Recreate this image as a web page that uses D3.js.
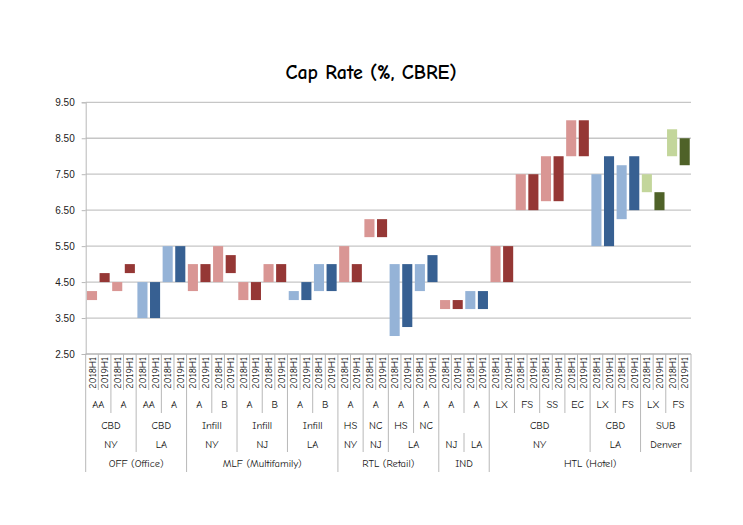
<!DOCTYPE html>
<html>
<head>
<meta charset="utf-8">
<script src="https://cdn.jsdelivr.net/npm/d3@7"></script>
<style>
  html, body { margin: 0; padding: 0; background: #fff; }
  svg { display: block; }
  .comic { font-family: "Comic Sans MS", "Comic Neue", "DejaVu Sans", sans-serif; }
</style>
</head>
<body>
<svg id="chart" width="743" height="525"></svg>
<script>
// ---- Data (one entry per pair of periods) ----
const periods = ["2018H1", "2019H1"];
const sectors = ["OFF (Office)","OFF (Office)","OFF (Office)","OFF (Office)",
  "MLF (Multifamily)","MLF (Multifamily)","MLF (Multifamily)","MLF (Multifamily)","MLF (Multifamily)","MLF (Multifamily)",
  "RTL (Retail)","RTL (Retail)","RTL (Retail)","RTL (Retail)",
  "IND","IND",
  "HTL (Hotel)","HTL (Hotel)","HTL (Hotel)","HTL (Hotel)","HTL (Hotel)","HTL (Hotel)","HTL (Hotel)","HTL (Hotel)"];
const markets = ["NY","NY","LA","LA", "NY","NY","NJ","NJ","LA","LA", "NY","NJ","LA","LA", "NJ","LA",
  "NY","NY","NY","NY","LA","LA","Denver","Denver"];
const subtypes = ["CBD","CBD","CBD","CBD", "Infill","Infill","Infill","Infill","Infill","Infill",
  "HS","NC","HS","NC", "","", "CBD","CBD","CBD","CBD","CBD","CBD","SUB","SUB"];
const classes = ["AA","A","AA","A", "A","B","A","B","A","B", "A","A","A","A", "A","A",
  "LX","FS","SS","EC","LX","FS","LX","FS"];
// [low, high] cap rate ranges, 2018H1 and 2019H1
const low2018  = [4.00,4.25,3.50,4.50, 4.25,4.50,4.00,4.50,4.00,4.25, 4.50,5.75,3.00,4.25, 3.75,3.75, 4.50,6.50,6.75,8.00,5.50,6.25,7.00,8.00];
const high2018 = [4.25,4.50,4.50,5.50, 5.00,5.50,4.50,5.00,4.25,5.00, 5.50,6.25,5.00,5.00, 4.00,4.25, 5.50,7.50,8.00,9.00,7.50,7.75,7.50,8.75];
const low2019  = [4.50,4.75,3.50,4.50, 4.50,4.75,4.00,4.50,4.00,4.25, 4.50,5.75,3.25,4.50, 3.75,3.75, 4.50,6.50,6.75,8.00,5.50,6.50,6.50,7.75];
const high2019 = [4.75,5.00,4.50,5.50, 5.00,5.25,4.50,5.00,4.50,5.00, 5.00,6.25,5.00,5.25, 4.00,4.25, 5.50,7.50,8.00,9.00,8.00,8.00,7.00,8.50];
const yTicks = [2.5, 3.5, 4.5, 5.5, 6.5, 7.5, 8.5, 9.5];
const title = "Cap Rate (%, CBRE)";

// ---- Build category table ----
const cats = [];
sectors.forEach((s, i) => {
  periods.forEach((p, j) => {
    cats.push({
      id: i * 2 + j, pair: i, period: p, sector: s, market: markets[i],
      sub: subtypes[i], cls: classes[i],
      low: j === 0 ? low2018[i] : low2019[i],
      high: j === 0 ? high2018[i] : high2019[i]
    });
  });
});

const palette = {
  red:   ["#d99694", "#953735"],
  blue:  ["#95b3d7", "#376092"],
  green: ["#c3d69b", "#4f6228"]
};
const marketColor = m => m === "LA" ? "blue" : (m === "Denver" ? "green" : "red");

const svg = d3.select("#chart");
const pLeft = 85.7, pRight = 691, pTop = 102.3, pBottom = 354;

const x = d3.scaleBand().domain(cats.map(d => d.id)).range([pLeft, pRight])
  .paddingInner(0.2).paddingOuter(0.1);
const y = d3.scaleLinear().domain([2.5, 9.5]).range([pBottom, pTop]);

// title
svg.append("text").attr("class", "comic")
  .attr("x", 371).attr("y", 79).attr("text-anchor", "middle")
  .attr("font-size", 20).attr("font-weight", "bold").attr("fill", "#000")
  .text(title);

// gridlines
svg.append("g").selectAll("line").data(yTicks).join("line")
  .attr("x1", pLeft).attr("x2", pRight)
  .attr("y1", d => y(d)).attr("y2", d => y(d))
  .attr("stroke", "#c6c6c6").attr("stroke-width", 1.3);

// y axis
const yAxis = svg.append("g").attr("transform", `translate(${pLeft},0)`)
  .call(d3.axisLeft(y).tickValues(yTicks).tickFormat(d3.format(".2f")).tickSize(4).tickPadding(7));
yAxis.select(".domain").attr("stroke", "#b8b8b8");
yAxis.selectAll(".tick line").attr("stroke", "#b8b8b8");
yAxis.selectAll("text").attr("font-family", "'Liberation Sans', Arial, sans-serif")
  .attr("font-size", 10).attr("fill", "#222");

// bars
svg.append("g").selectAll("rect").data(cats).join("rect")
  .attr("x", d => x(d.id)).attr("width", x.bandwidth())
  .attr("y", d => y(d.high)).attr("height", d => y(d.low) - y(d.high))
  .attr("fill", d => palette[marketColor(d.market)][d.period === periods[0] ? 0 : 1]);

// ---- multi-level category axis ----
const lineColor = "#b8b8b8";
const axisG = svg.append("g");
const rows = [ // [top, bottom, text y]
  [pBottom, 390, null],
  [390, 413, 408],
  [413, 433, 429],
  [433, 452, 448],
  [452, 472, 467]
];
svg.append("line").attr("x1", pLeft).attr("x2", pRight).attr("y1", pBottom).attr("y2", pBottom)
  .attr("stroke", lineColor);

// level keys: 0 period, 1 class, 2 sub, 3 market, 4 sector
const keyFns = [
  d => d.id,
  d => d.pair,
  d => d.sector + "|" + d.market + "|" + d.sub,
  d => d.sector + "|" + d.market,
  d => d.sector
];
const labelFns = [d => d.period, d => d.cls, d => d.sub, d => d.market, d => d.sector];

const bEdge = i => i === 0 ? pLeft : (i === cats.length ? pRight : (x(cats[i - 1].id) + x.bandwidth() + x(cats[i].id)) / 2);

for (let lvl = 0; lvl < 5; lvl++) {
  const [r0, r1, ty] = rows[lvl];
  const groups = [];
  cats.forEach((d, i) => {
    const k = keyFns[lvl](d);
    if (groups.length && groups[groups.length - 1].key === k) groups[groups.length - 1].end = i + 1;
    else groups.push({ key: k, start: i, end: i + 1, label: labelFns[lvl](d) });
  });
  const seps = [];
  groups.forEach((g, gi) => {
    const prev = groups[gi - 1];
    if (gi === 0 || g.label !== "" || (prev && prev.label !== "")) seps.push(bEdge(g.start));
  });
  seps.push(pRight);
  axisG.append("g").selectAll("line").data(seps).join("line")
    .attr("x1", d => d).attr("x2", d => d).attr("y1", r0).attr("y2", r1)
    .attr("stroke", lineColor);
  const tg = svg.append("g").attr("class", "comic").attr("fill", "#111");
  if (lvl === 0) {
    tg.selectAll("text").data(groups).join("text")
      .attr("transform", g => `translate(${x(cats[g.start].id) + x.bandwidth() / 2 + 3.5},${pBottom + 3}) rotate(-90)`)
      .attr("text-anchor", "end").attr("font-size", 10).text(g => g.label);
  } else {
    tg.selectAll("text").data(groups.filter(g => g.label !== "")).join("text")
      .attr("x", g => (bEdge(g.start) + bEdge(g.end)) / 2).attr("y", ty)
      .attr("text-anchor", "middle").attr("font-size", 10.5).text(g => g.label);
  }
}
</script>
</body>
</html>
